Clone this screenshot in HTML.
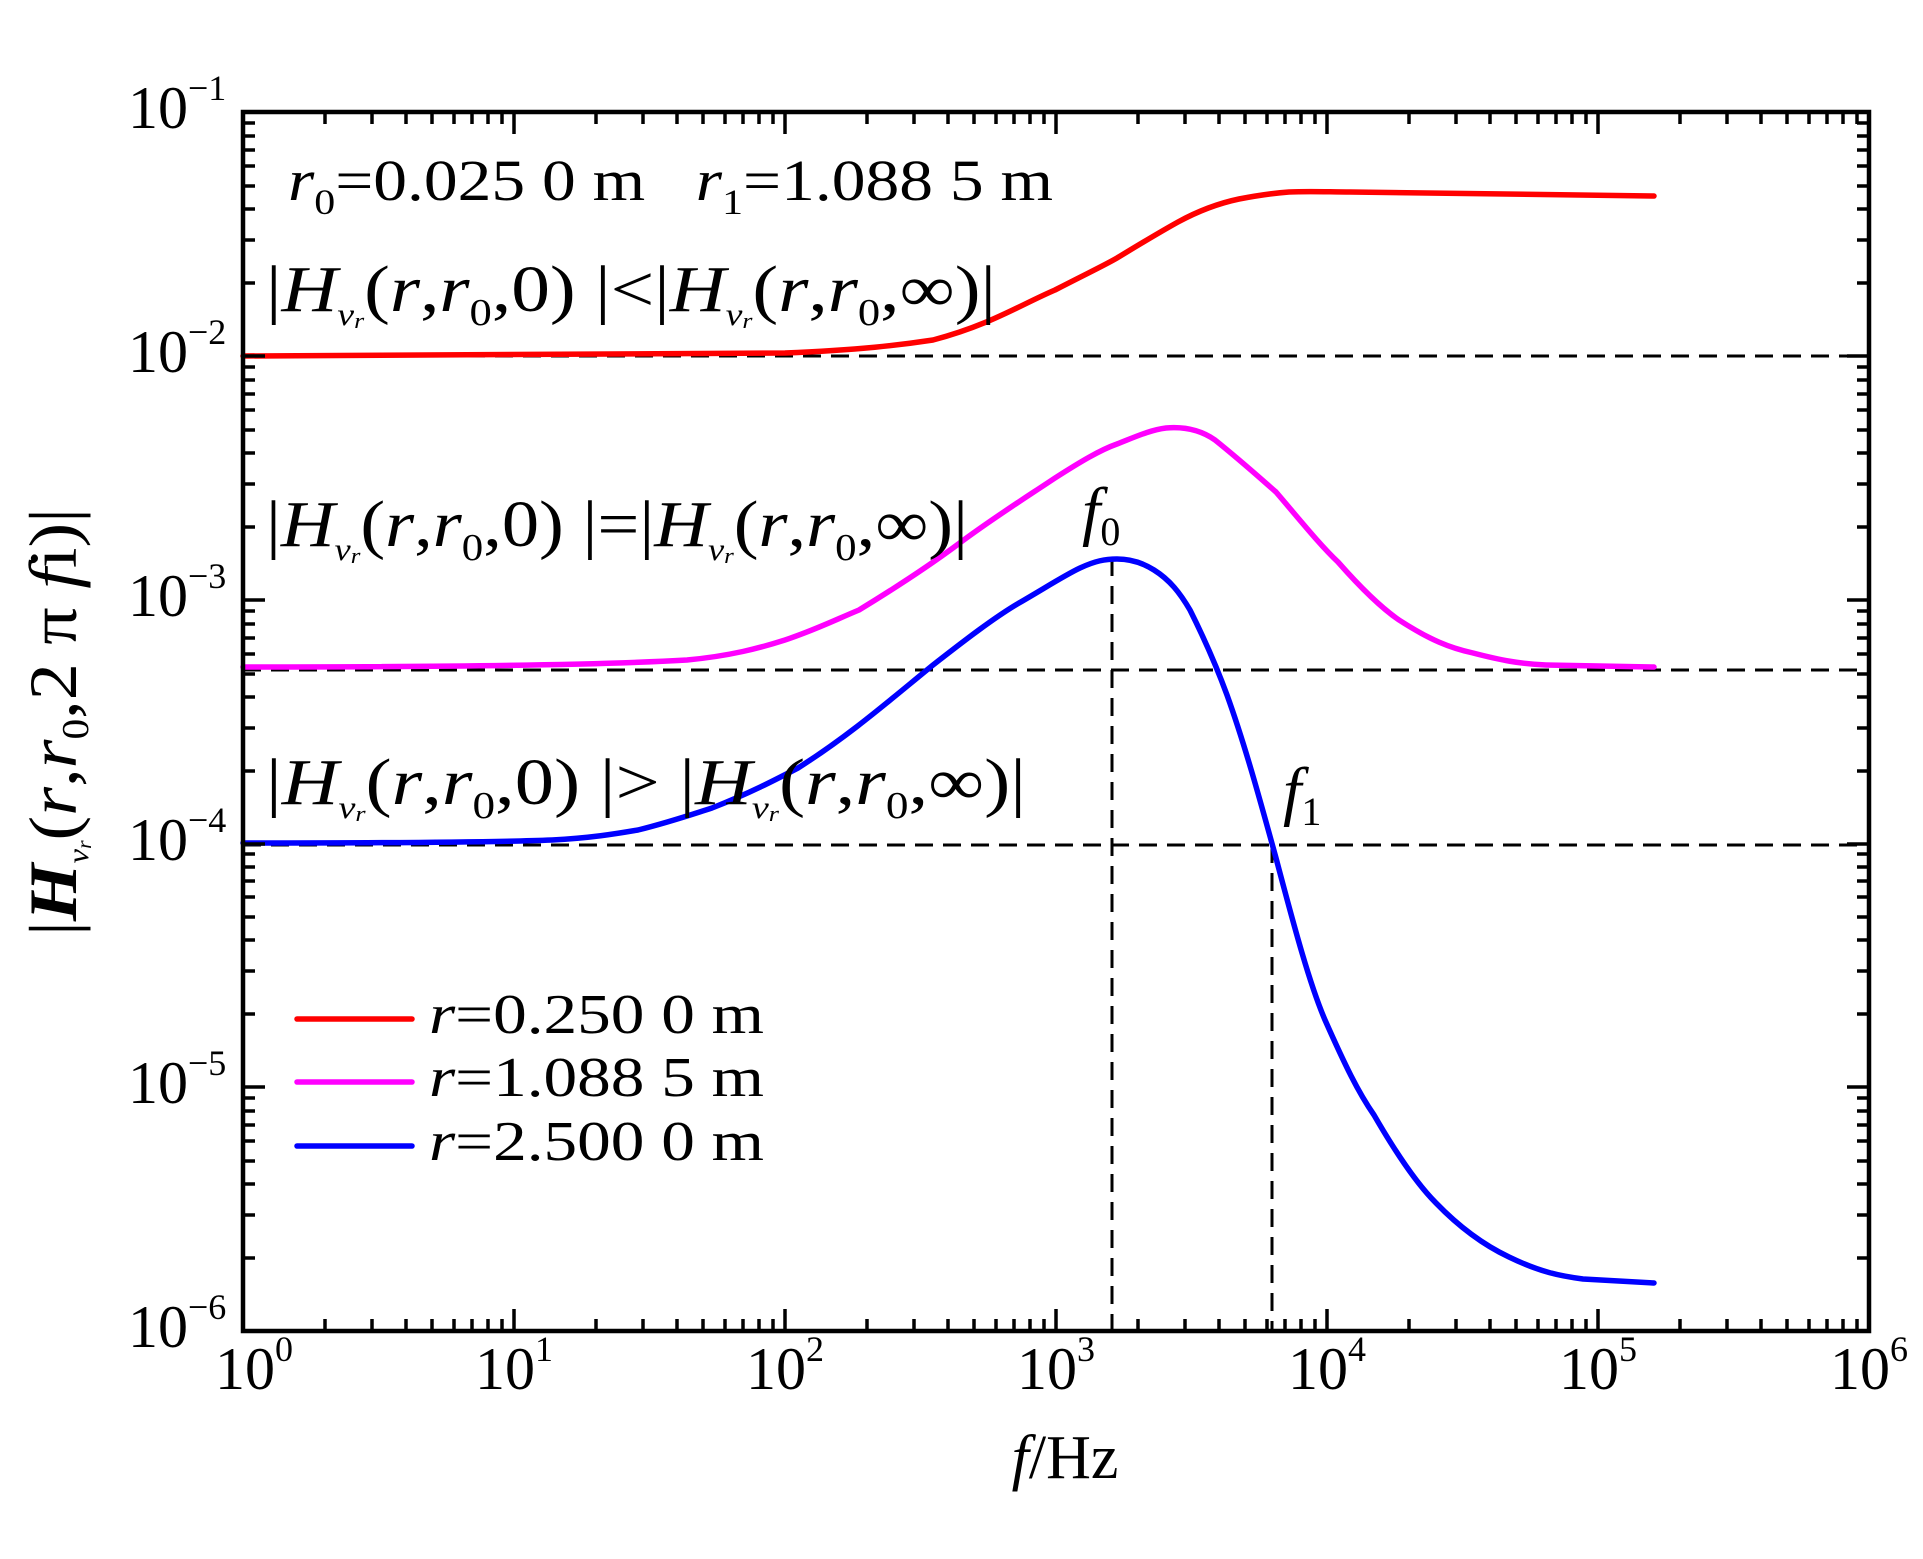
<!DOCTYPE html>
<html><head><meta charset="utf-8"><style>
html,body{margin:0;padding:0;background:#fff;}
svg{display:block;}
text{font-family:"Liberation Serif",serif;fill:#000;}
tspan{font-family:"Liberation Serif",serif;}
.it{font-style:italic;}
</style></head><body>
<svg width="1923" height="1559" viewBox="0 0 1923 1559" xmlns="http://www.w3.org/2000/svg">
<g stroke="#000" stroke-width="3" stroke-dasharray="18,10" fill="none">
<line x1="243" y1="356" x2="1869" y2="356"/>
<line x1="243" y1="670" x2="1869" y2="670"/>
<line x1="243" y1="845" x2="1869" y2="845"/>
<line x1="1112" y1="558" x2="1112" y2="1331"/>
<line x1="1272" y1="845" x2="1272" y2="1331"/>
</g>
<g fill="none" stroke-width="5.5" stroke-linejoin="round" stroke-linecap="round">
<path stroke="#ff0000" d="M243,356 C500,356 700,355 785,353 C860,350 900,345 933,340 C990,325 1020,305 1055,290 C1090,272 1105,265 1117,258 C1140,244 1160,232 1178,222 C1200,210 1220,203 1239,199 C1260,195 1275,193 1289,192 C1310,191 1330,192 1350,192 L1654,196"/>
<path stroke="#ff00ff" d="M243,667 C450,667 600,665 687,660 C730,656 760,648 785,640 C815,630 835,620 859,610 C900,585 930,565 957,545 C990,520 1025,498 1055,478 C1080,462 1100,450 1117,444 C1135,437 1150,430 1166,428 C1190,426 1205,433 1215,440 C1240,460 1260,478 1276,492 C1300,520 1320,545 1338,562 C1360,587 1380,607 1399,620 C1430,640 1450,648 1473,653 C1500,660 1520,664 1546,665 L1654,667"/>
<path stroke="#0000ff" d="M243,843 C400,843 500,842 552,840 C590,838 615,834 638,830 C670,822 690,815 712,808 C750,793 775,780 798,768 C850,735 890,700 933,665 C965,640 995,617 1019,603 C1045,588 1065,575 1080,568 C1095,561 1105,559 1117,559 C1130,559 1143,563 1154,570 C1170,580 1180,593 1190,610 C1205,640 1216,665 1227,695 C1245,745 1260,800 1276,858 C1295,930 1310,985 1325,1020 C1345,1065 1358,1092 1374,1115 C1400,1160 1420,1187 1436,1203 C1465,1233 1490,1248 1509,1257 C1540,1272 1560,1276 1583,1279 L1654,1283"/>
</g>
<rect x="243" y="112" width="1626" height="1219" fill="none" stroke="#000" stroke-width="4.5"/>
<g stroke="#000" stroke-width="3.5">
<path d="M514,1331v-22M785,1331v-22M1056,1331v-22M1327,1331v-22M1598,1331v-22M514,112v22M785,112v22M1056,112v22M1327,112v22M1598,112v22"/>
<path d="
M325,1331v-12M372,1331v-12M406,1331v-12M432,1331v-12M454,1331v-12M472,1331v-12M488,1331v-12M502,1331v-12
M596,1331v-12M643,1331v-12M677,1331v-12M703,1331v-12M725,1331v-12M743,1331v-12M759,1331v-12M773,1331v-12
M867,1331v-12M914,1331v-12M948,1331v-12M974,1331v-12M996,1331v-12M1014,1331v-12M1030,1331v-12M1044,1331v-12
M1138,1331v-12M1185,1331v-12M1219,1331v-12M1245,1331v-12M1267,1331v-12M1285,1331v-12M1301,1331v-12M1315,1331v-12
M1409,1331v-12M1456,1331v-12M1490,1331v-12M1516,1331v-12M1538,1331v-12M1556,1331v-12M1572,1331v-12M1586,1331v-12
M1680,1331v-12M1727,1331v-12M1761,1331v-12M1787,1331v-12M1809,1331v-12M1827,1331v-12M1843,1331v-12M1857,1331v-12
M325,112v12M372,112v12M406,112v12M432,112v12M454,112v12M472,112v12M488,112v12M502,112v12
M596,112v12M643,112v12M677,112v12M703,112v12M725,112v12M743,112v12M759,112v12M773,112v12
M867,112v12M914,112v12M948,112v12M974,112v12M996,112v12M1014,112v12M1030,112v12M1044,112v12
M1138,112v12M1185,112v12M1219,112v12M1245,112v12M1267,112v12M1285,112v12M1301,112v12M1315,112v12
M1409,112v12M1456,112v12M1490,112v12M1516,112v12M1538,112v12M1556,112v12M1572,112v12M1586,112v12
M1680,112v12M1727,112v12M1761,112v12M1787,112v12M1809,112v12M1827,112v12M1843,112v12M1857,112v12"/>
<path d="M243,356h22M243,600h22M243,844h22M243,1087h22M1869,356h-22M1869,600h-22M1869,844h-22M1869,1087h-22"/>
<path d="
M243,283h12M243,240h12M243,209h12M243,186h12M243,166h12M243,150h12M243,136h12M243,123h12
M243,527h12M243,484h12M243,453h12M243,430h12M243,410h12M243,394h12M243,380h12M243,367h12
M243,771h12M243,728h12M243,697h12M243,674h12M243,654h12M243,638h12M243,624h12M243,611h12
M243,1014h12M243,971h12M243,940h12M243,917h12M243,897h12M243,881h12M243,867h12M243,854h12
M243,1258h12M243,1215h12M243,1184h12M243,1161h12M243,1141h12M243,1125h12M243,1111h12M243,1098h12
M1869,283h-12M1869,240h-12M1869,209h-12M1869,186h-12M1869,166h-12M1869,150h-12M1869,136h-12M1869,123h-12
M1869,527h-12M1869,484h-12M1869,453h-12M1869,430h-12M1869,410h-12M1869,394h-12M1869,380h-12M1869,367h-12
M1869,771h-12M1869,728h-12M1869,697h-12M1869,674h-12M1869,654h-12M1869,638h-12M1869,624h-12M1869,611h-12
M1869,1014h-12M1869,971h-12M1869,940h-12M1869,917h-12M1869,897h-12M1869,881h-12M1869,867h-12M1869,854h-12
M1869,1258h-12M1869,1215h-12M1869,1184h-12M1869,1161h-12M1869,1141h-12M1869,1125h-12M1869,1111h-12M1869,1098h-12"/>
</g>
<g font-size="60">
<text x="128" y="128">10<tspan font-size="36" dy="-28">−1</tspan></text>
<text x="128" y="372">10<tspan font-size="36" dy="-28">−2</tspan></text>
<text x="128" y="616">10<tspan font-size="36" dy="-28">−3</tspan></text>
<text x="128" y="860">10<tspan font-size="36" dy="-28">−4</tspan></text>
<text x="128" y="1103">10<tspan font-size="36" dy="-28">−5</tspan></text>
<text x="128" y="1347">10<tspan font-size="36" dy="-28">−6</tspan></text>
</g>
<g font-size="60">
<text x="215" y="1389">10<tspan font-size="36" dy="-28">0</tspan></text>
<text x="475" y="1389">10<tspan font-size="36" dy="-28">1</tspan></text>
<text x="746" y="1389">10<tspan font-size="36" dy="-28">2</tspan></text>
<text x="1017" y="1389">10<tspan font-size="36" dy="-28">3</tspan></text>
<text x="1288" y="1389">10<tspan font-size="36" dy="-28">4</tspan></text>
<text x="1559" y="1389">10<tspan font-size="36" dy="-28">5</tspan></text>
<text x="1830" y="1389">10<tspan font-size="36" dy="-28">6</tspan></text>
</g>
<text x="1065" y="1478" font-size="62" text-anchor="middle"><tspan class="it">f</tspan>/Hz</text>
<text transform="translate(76,722) rotate(-90)" font-size="68" text-anchor="middle" textLength="428" lengthAdjust="spacingAndGlyphs">|<tspan class="it" font-weight="bold">H</tspan><tspan font-size="30" class="it" dy="12">v</tspan><tspan font-size="20" class="it" dy="3">r</tspan><tspan dy="-15">(</tspan><tspan class="it">r</tspan>,<tspan class="it">r</tspan><tspan font-size="38" dy="12">0</tspan><tspan dy="-12">,2 π </tspan><tspan class="it">f</tspan>i)|</text>
<text x="288" y="200" font-size="58" textLength="765" lengthAdjust="spacingAndGlyphs"><tspan class="it">r</tspan><tspan font-size="36" dy="14">0</tspan><tspan dy="-14">=0.025 0 m&#160;&#160;&#160;</tspan><tspan class="it">r</tspan><tspan font-size="36" dy="14">1</tspan><tspan dy="-14">=1.088 5 m</tspan></text>
<text x="266" y="311" font-size="66" textLength="730" lengthAdjust="spacingAndGlyphs">|<tspan class="it">H</tspan><tspan class="it" font-size="32" dy="14">v</tspan><tspan class="it" font-size="22" dy="3">r</tspan><tspan dy="-17">(</tspan><tspan class="it">r</tspan>,<tspan class="it">r</tspan><tspan font-size="38" dy="14">0</tspan><tspan dy="-14">,0) |&lt;|</tspan><tspan class="it">H</tspan><tspan class="it" font-size="32" dy="14">v</tspan><tspan class="it" font-size="22" dy="3">r</tspan><tspan dy="-17">(</tspan><tspan class="it">r</tspan>,<tspan class="it">r</tspan><tspan font-size="38" dy="14">0</tspan><tspan dy="-14">,∞)|</tspan></text>
<text x="266" y="546" font-size="66" textLength="702" lengthAdjust="spacingAndGlyphs">|<tspan class="it">H</tspan><tspan class="it" font-size="32" dy="14">v</tspan><tspan class="it" font-size="22" dy="3">r</tspan><tspan dy="-17">(</tspan><tspan class="it">r</tspan>,<tspan class="it">r</tspan><tspan font-size="38" dy="14">0</tspan><tspan dy="-14">,0) |=|</tspan><tspan class="it">H</tspan><tspan class="it" font-size="32" dy="14">v</tspan><tspan class="it" font-size="22" dy="3">r</tspan><tspan dy="-17">(</tspan><tspan class="it">r</tspan>,<tspan class="it">r</tspan><tspan font-size="38" dy="14">0</tspan><tspan dy="-14">,∞)|</tspan></text>
<text x="266" y="804" font-size="66" textLength="760" lengthAdjust="spacingAndGlyphs">|<tspan class="it">H</tspan><tspan class="it" font-size="32" dy="14">v</tspan><tspan class="it" font-size="22" dy="3">r</tspan><tspan dy="-17">(</tspan><tspan class="it">r</tspan>,<tspan class="it">r</tspan><tspan font-size="38" dy="14">0</tspan><tspan dy="-14">,0) |&gt; |</tspan><tspan class="it">H</tspan><tspan class="it" font-size="32" dy="14">v</tspan><tspan class="it" font-size="22" dy="3">r</tspan><tspan dy="-17">(</tspan><tspan class="it">r</tspan>,<tspan class="it">r</tspan><tspan font-size="38" dy="14">0</tspan><tspan dy="-14">,∞)|</tspan></text>
<text x="1082" y="533" font-size="66"><tspan class="it">f</tspan><tspan font-size="40" dy="12">0</tspan></text>
<text x="1283" y="813" font-size="66"><tspan class="it">f</tspan><tspan font-size="40" dy="12">1</tspan></text>
<g stroke-width="5.5" stroke-linecap="round">
<line x1="297" y1="1019" x2="412" y2="1019" stroke="#ff0000"/>
<line x1="297" y1="1082" x2="412" y2="1082" stroke="#ff00ff"/>
<line x1="297" y1="1146" x2="412" y2="1146" stroke="#0000ff"/>
</g>
<g font-size="56">
<text x="429" y="1033" textLength="335" lengthAdjust="spacingAndGlyphs"><tspan class="it">r</tspan>=0.250 0 m</text>
<text x="429" y="1096" textLength="335" lengthAdjust="spacingAndGlyphs"><tspan class="it">r</tspan>=1.088 5 m</text>
<text x="429" y="1160" textLength="335" lengthAdjust="spacingAndGlyphs"><tspan class="it">r</tspan>=2.500 0 m</text>
</g>
</svg>
</body></html>
